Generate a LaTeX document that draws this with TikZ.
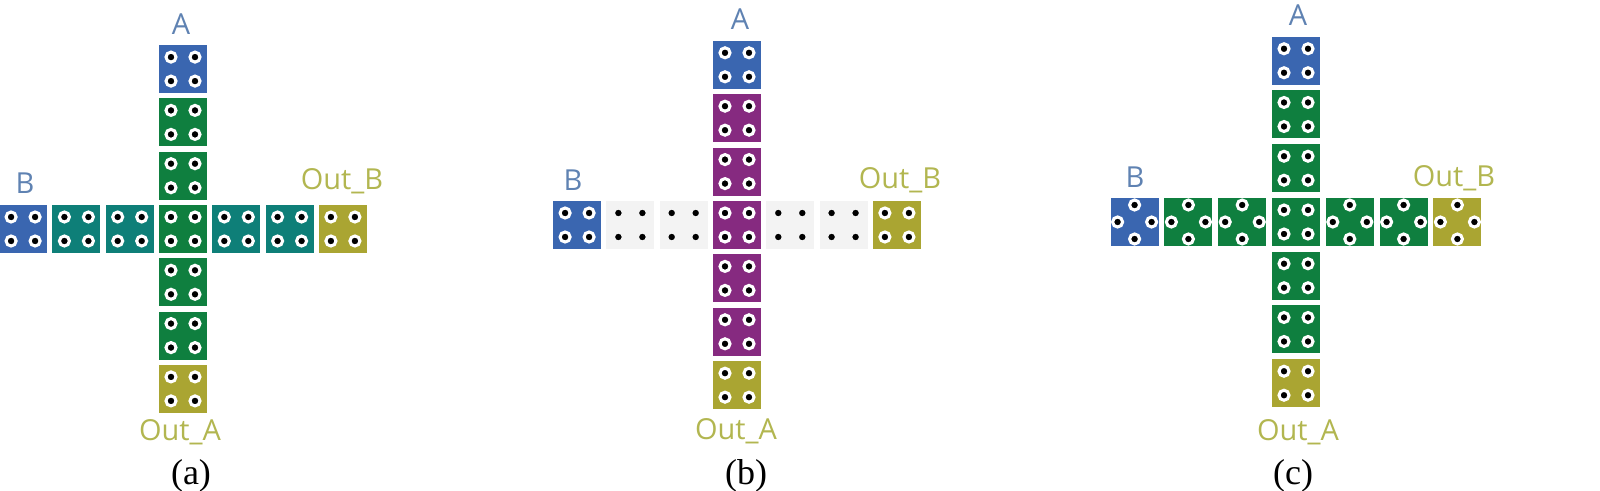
\documentclass[tikz,border=0pt]{standalone}
\usepackage{fontspec}
\setmainfont{Open Sans}
\newfontfamily\capfont{Liberation Serif}
\definecolor{padblue}{HTML}{3A66B0}
\definecolor{padgreen}{HTML}{0F7F3F}
\definecolor{padteal}{HTML}{0E7F78}
\definecolor{padolive}{HTML}{AAA532}
\definecolor{padpurple}{HTML}{862A80}
\definecolor{padlight}{HTML}{F3F3F3}
\definecolor{textblue}{HTML}{5F82B2}
\definecolor{textolive}{HTML}{B2B650}
\tikzset{
	every picture/.style={line width=0.75pt},
	pad/.style={inner sep=0pt,minimum size=36pt},
	blue pad/.style={pad,fill=padblue},
	green pad/.style={pad,fill=padgreen},
	teal pad/.style={pad,fill=padteal},
	olive pad/.style={pad,fill=padolive},
	purple pad/.style={pad,fill=padpurple},
	light pad/.style={pad,fill=padlight},
	port in/.style={text=textblue,anchor=base,inner sep=0pt,font=\fontsize{21.7}{22}\selectfont},
	port out/.style={text=textolive,anchor=base,inner sep=0pt,font=\fontsize{21.7}{22}\selectfont},
	caption/.style={text=black,anchor=base,inner sep=0pt,font=\capfont\fontsize{27}{27}\selectfont}
}
\newcommand{\squareholes}{12/-12,12/12,-12/-12,-12/12}
\newcommand{\diamondholes}{0/-17,0/17,-17/0,17/0}
\newcommand{\padholes}[3]{
	\foreach \dx/\dy in #3
		\filldraw [draw=#2,fill=black,line width=2.3pt] ([shift={(\dx,\dy)}]#1.center) circle [radius=3.75pt];
}
% #1 name, #2 centre x, #3 centre y, #4 pitch x, #5 pitch y, #6 column pad, #7 row pad, #8 row ring, #9 row holes
\newcommand{\padcross}[9]{
	\node [#6] (#1c) at (#2,#3) {};
	\foreach \i/\sty in {-3/blue pad,-2/#6,-1/#6,1/#6,2/#6,3/olive pad}
		\node [\sty] (#1v\i) at ({#2},{#3+\i*#5}) {};
	\foreach \i/\sty in {-3/blue pad,-2/#7,-1/#7,1/#7,2/#7,3/olive pad}
		\node [\sty] (#1h\i) at ({#2+\i*#4},{#3}) {};
	\foreach \cell in {#1c,#1v-3,#1v-2,#1v-1,#1v1,#1v2,#1v3}
		\padholes{\cell}{white}{\squareholes};
	\foreach \i/\ring in {-3/white,-2/#8,-1/#8,1/#8,2/#8,3/white}
		\padholes{#1h\i}{\ring}{#9};
}
\begin{document}
\begin{tikzpicture}[x=0.75pt,y=0.75pt,yscale=-1,xscale=1]
	\useasboundingbox (0,0) rectangle (1600,491);
	
	%Cross a
	\padcross{a}{183}{229}{53.3}{53.3}{green pad}{teal pad}{white}{\squareholes}
	%Cross b
	\padcross{b}{737}{225}{53.3}{53.4}{purple pad}{light pad}{padlight}{\squareholes}
	%Cross c
	\padcross{c}{1296}{222}{53.8}{53.75}{green pad}{green pad}{white}{\diamondholes}
	
	%Labels a
	\node [port in] (a in a) at (181,35) {A};
	\node [port in] (a in b) at (25,194) {B};
	\node [port out] (a out b) at (342,190) {Out\_B};
	\node [port out] (a out a) at (180,441) {Out\_A};
	\node [caption] (a cap) at (191,484) {(a)};
	%Labels b
	\node [port in] (b in a) at (740,30) {A};
	\node [port in] (b in b) at (573,191) {B};
	\node [port out] (b out b) at (900,189) {Out\_B};
	\node [port out] (b out a) at (736,440) {Out\_A};
	\node [caption] (b cap) at (746,484) {(b)};
	%Labels c
	\node [port in] (c in a) at (1298,26) {A};
	\node [port in] (c in b) at (1135,188) {B};
	\node [port out] (c out b) at (1454,187) {Out\_B};
	\node [port out] (c out a) at (1298,441) {Out\_A};
	\node [caption] (c cap) at (1293,484) {(c)};
\end{tikzpicture}
\end{document}
